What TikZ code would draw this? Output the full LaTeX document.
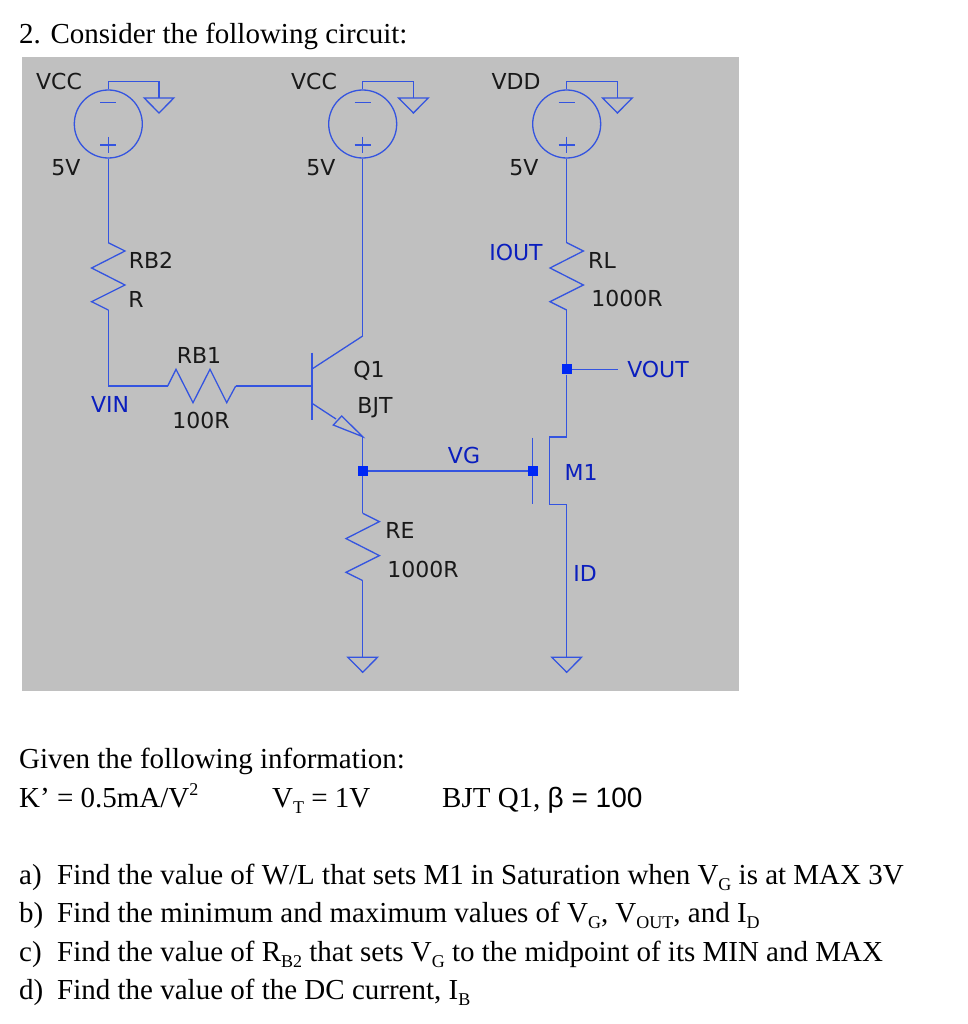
\documentclass[tikz,border=0pt]{standalone}
\usepackage{fontspec}
\setmainfont{Liberation Serif}
\newfontfamily\spicefont{DejaVu Sans}
\newfontfamily\betafont{Liberation Sans}
\newcommand{\lowtxt}[1]{\raisebox{-0.22em}{\fontsize{18}{18}\selectfont #1}}
\definecolor{wire}{RGB}{52,84,224}
\definecolor{netlab}{RGB}{10,30,190}
\definecolor{panel}{RGB}{192,192,192}
\definecolor{dot}{RGB}{0,40,245}
\tikzset{
  w/.style={draw=wire,line width=1.3pt,line join=miter},
  lab/.style={font=\spicefont\fontsize{22}{24}\selectfont,text=black!90,inner sep=0pt},
  net/.style={font=\spicefont\fontsize{22}{24}\selectfont,text=netlab,inner sep=0pt},
  prose/.style={font=\fontsize{29}{32}\selectfont,anchor=base west,inner sep=0pt,text=black},
  jun/.style={fill=dot,draw=none,minimum size=10pt,inner sep=0pt,shape=rectangle},
  src/.style={circle,draw=wire,line width=1.3pt,minimum size=68pt,inner sep=0pt},
  resv/.pic={
    \coordinate (-in) at (0,0);
    \coordinate (-out) at (0,67.3);
    \draw[w] (0,0)--(16.7,8.3)--(-16.7,25.3)--(16.7,42.3)--(-16.7,59)--(0,67.3);
  },
  resh/.pic={
    \coordinate (-in) at (0,0);
    \coordinate (-out) at (68,0);
    \draw[w] (0,0)--(8.3,-16.7)--(25.3,16.7)--(42.3,-16.7)--(59,16.7)--(68,0);
  },
  gnd/.pic={
    \coordinate (-in) at (0,0);
    \draw[w] (-14.8,0)--(14.8,0)--(0,15)--cycle;
  },
  signs/.pic={
    \draw[w] (-8,-21.5)--(8,-21.5);
    \draw[w] (-8,21)--(8,21) (0,13)--(0,29);
  }
}
\begin{document}
\begin{tikzpicture}[x=1pt,y=-1pt]
\useasboundingbox (0,0) rectangle (967,1024);
\fill[white] (0,0) rectangle (967,1024);
\fill[panel] (22,57) rectangle (739,691);

% supplies
\node[src] (v1) at (108.3,124) {};
\node[src] (v2) at (362.7,124) {};
\node[src] (v3) at (566.7,124) {};
\pic at (v1) {signs};
\pic at (v2) {signs};
\pic at (v3) {signs};

% grounds
\pic (g1) at (159,98) {gnd};
\pic (g2) at (413.4,98) {gnd};
\pic (g3) at (617.4,98) {gnd};
\pic (g4) at (362.7,657.3) {gnd};
\pic (g5) at (566.7,657.3) {gnd};

\draw[w] (v1.north) |- (159,81.7) -- (g1-in);
\draw[w] (v2.north) |- (413.4,81.7) -- (g2-in);
\draw[w] (v3.north) |- (617.4,81.7) -- (g3-in);

% resistors
\pic (rb2) at (108.3,242.7) {resv};
\pic (rb1) at (167.7,386) {resh};
\pic (rl) at (566.7,242.7) {resv};
\pic (re) at (362.7,513.3) {resv};

% BJT
\coordinate (qb) at (312,386);
\coordinate (qc) at (312,369);
\coordinate (qe) at (312,403.3);
\coordinate (qct) at (362.7,336);
\coordinate (qet) at (362.7,436.7);
\draw[w] (312,352.7)--(312,420);
\draw[w] (qc)--(qct);
\draw[w] (qe)--(336,419);
\draw[w] (qet)--(333.3,425)--(341.7,416)--cycle;

% MOSFET
\coordinate (mg) at (532.7,471);
\coordinate (md) at (566.7,437);
\coordinate (ms) at (566.7,504.7);
\draw[w] (532.7,437.7)--(532.7,504.3);
\draw[w] (md)--(549.7,437)--(549.7,504.7)--(ms);

% junctions
\node[jun] (jout) at (566.7,369.3) {};
\node[jun] (jg) at (362.7,471) {};
\node[jun] (jm) at (mg) {};
\coordinate (voutend) at (617.7,369.3);

% wires
\draw[w] (v1.south)--(rb2-in);
\draw[w] (rb2-out)|-(rb1-in);
\draw[w] (rb1-out)--(qb);
\draw[w] (v2.south)--(qct);
\draw[w] (qet)--(jg);
\draw[w] (jg)--(re-in);
\draw[w] (re-out)--(g4-in);
\draw[w] (jg)--(jm);
\draw[w] (v3.south)--(rl-in);
\draw[w] (rl-out)--(jout);
\draw[w] (jout)--(md);
\draw[w] (jout)--(voutend);
\draw[w] (ms)--(g5-in);

% labels
\node[lab] (lv1) at (59,81) {VCC};
\node[lab] (lv2) at (314,81) {VCC};
\node[lab] (lv3) at (516,81) {VDD};
\node[lab] (l5a) at (66,168) {5V};
\node[lab] (l5b) at (321,168) {5V};
\node[lab] (l5c) at (524,168) {5V};
\node[lab] (lrb2) at (151,260) {RB2};
\node[lab] (lr) at (136,299) {R};
\node[lab] (lrb1) at (199,355) {RB1};
\node[lab] (lrb1v) at (201,420) {100R};
\node[lab] (lq) at (369,371) {Q1};
\node[lab] (lb) at (375,408) {BJT};
\node[lab] (lre) at (400,530) {RE};
\node[lab] (lrev) at (423,569) {1000R};
\node[lab] (lrl) at (602,260) {RL};
\node[lab] (lrlv) at (627,298) {1000R};
\node[net] (nvin) at (110,404) {VIN};
\node[net] (nvg) at (464,455) {VG};
\node[net] (nm) at (581,472) {M1};
\node[net] (nid) at (585,573) {ID};
\node[net] (niout) at (516,252) {IOUT};
\node[net] (nvout) at (658,369) {VOUT};

% prose
\node[prose] (t1) at (19,44) {2. Consider the following circuit:};
\node[prose] (t2) at (19,768) {Given the following information:};
\node[prose] (t3) at (19,807) {K’ = 0.5mA/V\raisebox{0.38em}{\fontsize{18}{18}\selectfont 2}};
\node[prose] (t4) at (272,807) {V\lowtxt{T} = 1V};
\node[prose] (t5) at (442,807) {BJT Q1, {\betafont\fontsize{28}{32}\selectfont β = 100}};
\node[prose] (a1) at (19,884) {a)};
\node[prose] (a2) at (57,884) {Find the value of W/L that sets M1 in Saturation when V\lowtxt{G} is at MAX 3V};
\node[prose] (b1) at (19,922) {b)};
\node[prose] (b2) at (57,922) {Find the minimum and maximum values of V\lowtxt{G}, V\lowtxt{OUT}, and I\lowtxt{D}};
\node[prose] (c1) at (19,961) {c)};
\node[prose] (c2) at (57,961) {Find the value of R\lowtxt{B2} that sets V\lowtxt{G} to the midpoint of its MIN and MAX};
\node[prose] (d1) at (19,999) {d)};
\node[prose] (d2) at (57,999) {Find the value of the DC current, I\lowtxt{B}};
\end{tikzpicture}
\end{document}
